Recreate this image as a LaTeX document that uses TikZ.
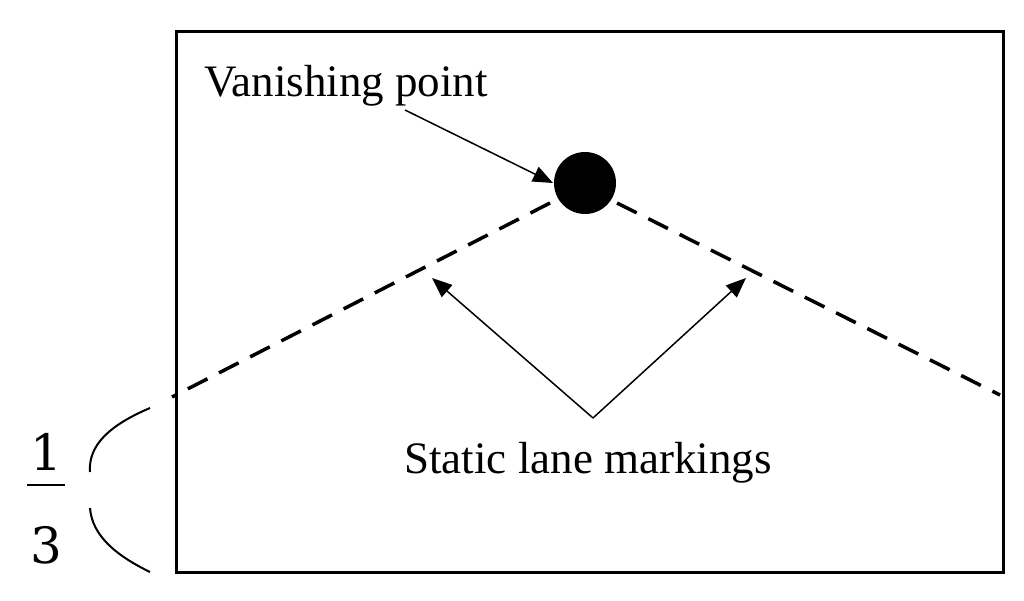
\documentclass[tikz,border=0pt]{standalone}
\usepackage{fontspec}
\setmainfont{Liberation Serif}
\newfontfamily\numfont{DejaVu Serif}
\usetikzlibrary{arrows.meta}
\begin{document}
\begin{tikzpicture}[x=1pt,y=-1pt,
  lab/.style={font=\fontsize{45}{48}\selectfont, inner sep=0pt},
  num/.style={font=\numfont\fontsize{50}{52}\selectfont, inner sep=0pt},
  ptr/.style={line width=1.5pt,-{Triangle[length=20pt,width=16pt]}},
  lane/.style={line width=3.5pt,dash pattern=on 22pt off 13pt}]
\useasboundingbox (0,0) rectangle (1024,601);
\draw[line width=3pt] (176,32) rectangle (1003,572);
\fill (585,183) circle (31);
\coordinate (vl) at (550,203);
\coordinate (vr) at (617,203);
\coordinate (le) at (172,397);
\coordinate (re) at (1000,395);
\draw[lane] (vl) -- (le);
\draw[lane] (vr) -- (re);
\node[lab] (vp) at (346,86) {Vanishing point};
\coordinate (vs) at (405,110);
\coordinate (vt) at (553,183);
\draw[ptr] (vs) -- (vt);
\node[lab] (sl) at (588,463) {Static lane markings};
\coordinate (sp) at (593,418);
\coordinate (a1) at (432,278);
\coordinate (a2) at (746,278);
\draw[ptr] (sp) -- (a1);
\draw[ptr] (sp) -- (a2);
\node[num] (one) at (46,452) {1};
\node[num] (three) at (46,545) {3};
\coordinate (f1) at (27,485);
\coordinate (f2) at (65,485);
\draw[line width=2.5pt] (f1) -- (f2);
\coordinate (b1) at (150,408);
\coordinate (b2) at (90,472);
\coordinate (b3) at (90,508);
\coordinate (b4) at (150,572);
\draw[line width=2pt] (b1) .. controls (110,425) and (88,445) .. (b2);
\draw[line width=2pt] (b3) .. controls (92,535) and (115,555) .. (b4);
\end{tikzpicture}
\end{document}
